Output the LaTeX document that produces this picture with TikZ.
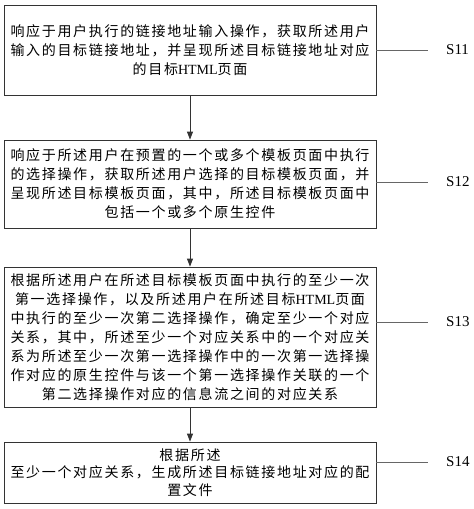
\documentclass[tikz,border=0pt]{standalone}
\usepackage{fontspec}
\setmainfont{Liberation Serif}
\newfontfamily\cjk[LetterSpace=12]{Noto Sans CJK SC}
\usetikzlibrary{arrows.meta}
\tikzset{
  stepbox/.style={draw=black!80, line width=0.8pt, minimum width=372pt, text width=370pt,
    align=center, inner sep=0pt, font=\fontsize{14}{19}\selectfont\cjk},
  flow/.style={draw=black!80, line width=0.8pt, -{Triangle[length=8pt,width=6pt]}},
  tagline/.style={draw=black!60, line width=0.8pt},
  tag/.style={inner sep=0pt, anchor=west, font=\fontsize{15}{18}\selectfont}
}
\begin{document}
\begin{tikzpicture}[x=1pt,y=-1pt]
\useasboundingbox (0,0) rectangle (474,509);
\node[stepbox, minimum height=90pt] (b1) at (190,50) {响应于用户执行的链接地址输入操作，获取所述用户\\输入的目标链接地址，并呈现所述目标链接地址对应\\的目标{\rmfamily HTML}页面};
\node[stepbox, minimum height=88pt] (b2) at (190,184) {响应于所述用户在预置的一个或多个模板页面中执行\\的选择操作，获取所述用户选择的目标模板页面，并\\呈现所述目标模板页面，其中，所述目标模板页面中\\包括一个或多个原生控件};
\node[stepbox, minimum height=140pt] (b3) at (190,337) {根据所述用户在所述目标模板页面中执行的至少一次\\第一选择操作，以及所述用户在所述目标{\rmfamily HTML}页面\\中执行的至少一次第二选择操作，确定至少一个对应\\关系，其中，所述至少一个对应关系中的一个对应关\\系为所述至少一次第一选择操作中的一次第一选择操\\作对应的原生控件与该一个第一选择操作关联的一个\\第二选择操作对应的信息流之间的对应关系};
\node[stepbox, minimum height=61pt, font=\fontsize{14}{17.5}\selectfont\cjk] (b4) at (190,472.5) {根据所述\\至少一个对应关系，生成所述目标链接地址对应的配\\置文件};
\draw[flow] (b1) -- (b2);
\draw[flow] (b2) -- (b3);
\draw[flow] (b3) -- (b4);
\node[tag] (s1) at (446,50) {S11};
\node[tag] (s2) at (446,182) {S12};
\node[tag] (s3) at (446,322) {S13};
\node[tag] (s4) at (446,462) {S14};
\draw[tagline] (b1.east |- s1) -- ([xshift=-18pt]s1.west);
\draw[tagline] (b2.east |- s2) -- ([xshift=-18pt]s2.west);
\draw[tagline] (b3.east |- s3) -- ([xshift=-18pt]s3.west);
\draw[tagline] (b4.east |- s4) -- ([xshift=-18pt]s4.west);
\end{tikzpicture}
\end{document}
